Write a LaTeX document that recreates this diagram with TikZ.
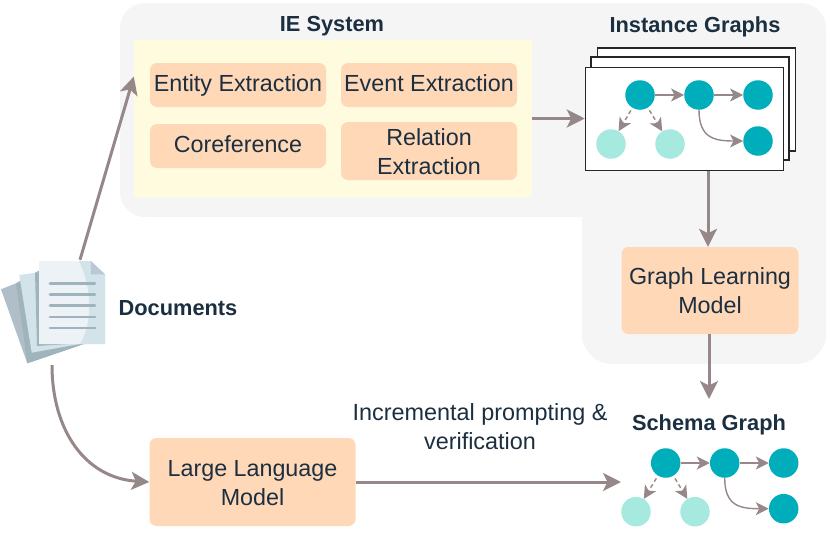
\documentclass[tikz,border=0pt]{standalone}
\usepackage{fontspec}
\setmainfont{Liberation Sans}
\usetikzlibrary{arrows.meta}
\definecolor{panel}{HTML}{F5F5F5}
\definecolor{yel}{HTML}{FEFBDE}
\definecolor{org}{HTML}{FFD8B8}
\definecolor{arr}{HTML}{968888}
\definecolor{teal}{HTML}{00AEBB}
\definecolor{mint}{HTML}{A6E9DE}
\definecolor{ttl}{HTML}{1B2F40}
\definecolor{dk1}{HTML}{B0BEC7}
\definecolor{dk2}{HTML}{A0B4BC}
\definecolor{pale}{HTML}{D3E3EA}
\definecolor{front}{HTML}{ECF2F5}
\definecolor{fold}{HTML}{B8C8D4}
\definecolor{rule}{HTML}{9FB3BC}
\newcommand{\oneline}{\rule[-4pt]{0pt}{20.8pt}}
\newcommand{\firstline}{\rule{0pt}{18.2pt}}
\tikzset{
 box/.style={fill=org,rounded corners=7pt,inner sep=0pt,text=ttl,align=center,font=\fontsize{23.3}{29}\selectfont},
 ttlnode/.style={text=ttl,font=\fontsize{21.8}{25}\selectfont\bfseries,inner sep=0pt},
 flow/.style={draw=arr,line width=3pt,-{Stealth[length=18pt,width=18pt,inset=4.5pt]}},
 gdark/.style={circle,fill=teal,minimum size=29.5pt,inner sep=0pt},
 glight/.style={circle,fill=mint,minimum size=29.5pt,inner sep=0pt},
 gedge/.style={draw=arr,line width=1.4pt,-{Stealth[length=13pt,width=13pt,inset=3.5pt]}},
 gdash/.style={gedge,dash pattern=on 4pt off 3pt,shorten <=3pt},
 sheet/.style={draw=black!85,line width=1.5pt,fill=white,inner sep=0pt,minimum width=198pt,minimum height=103pt},
}
\begin{document}
\begin{tikzpicture}[x=1pt,y=-1pt]
\useasboundingbox (0,0) rectangle (830,533);
% panel
\fill[panel,rounded corners=25pt] (120,3) rectangle (826,217);
\fill[panel,rounded corners=30pt] (582,60) rectangle (826,364);
\node[fill=yel,inner sep=0pt,minimum width=398pt,minimum height=157pt] (ie) at (333,118.5) {};
\node[ttlnode] (ietitle) at (332,26.5) {IE System};
\node[box,minimum width=176pt,minimum height=44pt] (ent) at (238,85) {\oneline Entity Extraction};
\node[box,minimum width=176pt,minimum height=44pt] (evt) at (429,85) {\oneline Event Extraction};
\node[box,minimum width=176pt,minimum height=44pt] (cor) at (238,146) {\oneline Coreference};
\node[box,minimum width=176pt,minimum height=58pt] (rel) at (429,151) {\firstline Relation\\Extraction};
% instance graphs
\node[ttlnode] (insttitle) at (695,26.5) {Instance Graphs};
\node[sheet] (s3) at (696.5,99.5) {};
\node[sheet] (s2) at (690,108.5) {};
\node[sheet] (s1) at (684.5,119) {};
\node[gdark] (a1) at (640,95) {};
\node[gdark] (a2) at (699,95) {};
\node[gdark] (a3) at (758,95) {};
\node[gdark] (a4) at (758,141) {};
\node[glight] (a5) at (611,144) {};
\node[glight] (a6) at (670,144) {};
\draw[gedge] (a1) -- (a2);
\draw[gedge] (a2) -- (a3);
\draw[gedge] (a2.south) to[out=270,in=180,looseness=1.35] (a4.west);
\draw[gdash] (a1) -- (a5);
\draw[gdash] (a1) -- (a6);
% graph learning
\node[box,minimum width=177pt,minimum height=87pt] (glm) at (710,290.5) {\firstline Graph Learning\\Model};
% schema
\node[ttlnode] (schematitle) at (709,424.5) {Schema Graph};
\coordinate (schematop) at (709,399);
\node[gdark] (b1) at (665.7,463) {};
\node[gdark] (b2) at (724.7,463) {};
\node[gdark] (b3) at (783.7,463) {};
\node[gdark] (b4) at (783.7,508.7) {};
\node[glight] (b5) at (636,511.7) {};
\node[glight] (b6) at (695,511.7) {};
\draw[gedge] (b1) -- (b2);
\draw[gedge] (b2) -- (b3);
\draw[gedge] (b2.south) to[out=270,in=180,looseness=1.35] (b4.west);
\draw[gdash] (b1) -- (b5);
\draw[gdash] (b1) -- (b6);
\coordinate (schemain) at (621,481);
% LLM
\node[box,minimum width=206pt,minimum height=88pt] (llm) at (252.5,482) {\firstline Large Language\\Model};
\node[text=ttl,align=center,inner sep=0pt,font=\fontsize{23.4}{29}\selectfont] (prompt) at (480,427) {Incremental prompting \&\\verification};
% documents icon
\fill[dk1] (1,289.3) -- (20,281.7) -- (100,320) -- (83.3,344) -- (27.3,363.3) -- cycle;
\fill[dk2] (16,283.3) -- (27.3,363.3) -- (85,343.7) -- (40,270) -- cycle;
\fill[pale] (19.3,275) -- (39,272.3) -- (85,343) -- (31.7,352.7) -- cycle;
\fill[dk2] (35,272.7) -- (39,272.3) -- (85,343) -- (37,346) -- cycle;
\fill[front] (39,261) -- (90.7,261) -- (105,274.3) -- (105,344) -- (39,344) -- cycle;
\fill[pale] (79,261) -- (90.7,261) -- (105,274.3) -- (105,344) -- (80,344) .. controls (92,325) and (93,290) .. cycle;
\fill[fold] (90.7,261) -- (105,274.3) -- (91,274.3) -- cycle;
\foreach \yy in {283.7,294.7,305.7,317,328}
  \draw[rule,line width=2.8pt,line cap=round] (50,\yy) -- (95,\yy);
\node[inner sep=0pt,minimum width=102pt,minimum height=105pt] (docicon) at (54,312.5) {};
\node[ttlnode] (doctitle) at (178,308) {Documents};
% connectors
\draw[flow] ([xshift=26pt]docicon.north) -- ([yshift=42pt]ie.west);
\draw[flow] ([xshift=-2pt]docicon.south) .. controls (52,430) and (85,478) .. (llm.west);
\draw[flow] (llm.east) -- (llm.east -| schemain);
\draw[flow] (ie.east) -- (ie.east -| s1.west);
\draw[flow] (s1.south -| glm.north) ++(-2,0) -- ([xshift=-2pt]glm.north);
\draw[flow] ([xshift=-1pt]glm.south) -- (schematop);
\end{tikzpicture}
\end{document}
